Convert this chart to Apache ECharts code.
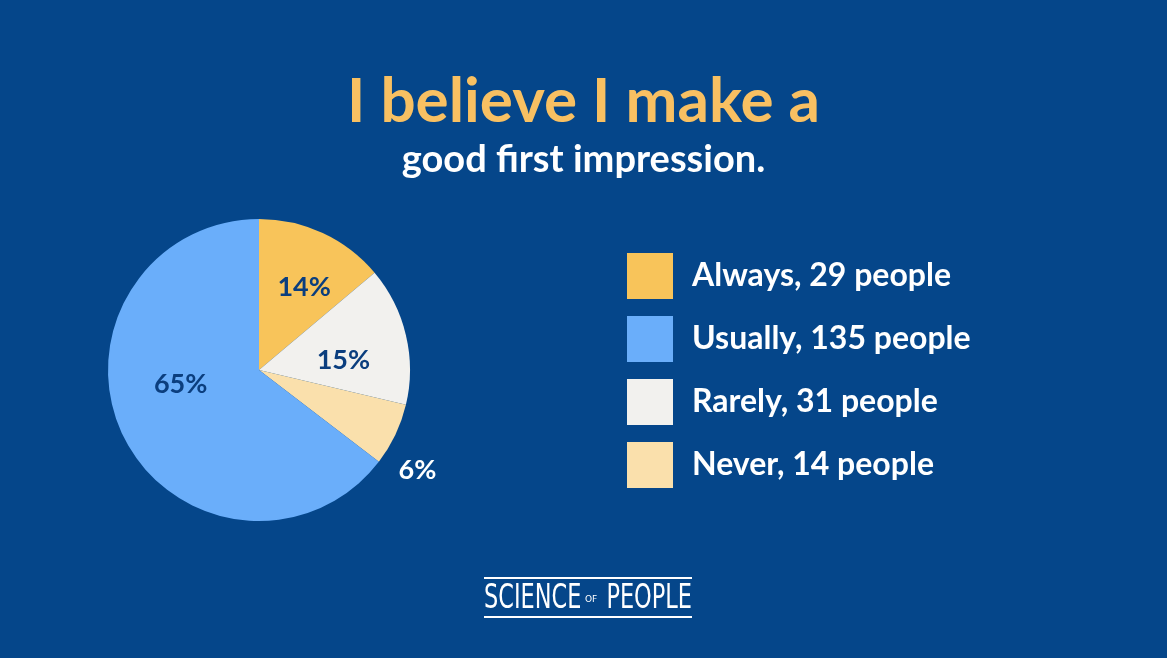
<!DOCTYPE html>
<html><head><meta charset="utf-8">
<script src="https://cdn.jsdelivr.net/npm/echarts@6/dist/echarts.min.js"></script>
<style>html,body{margin:0;padding:0;background:#05468A;}#c{width:1167px;height:658px;}</style>
</head><body><div id="c"></div>
<script>
const categories = ['Always', 'Rarely', 'Never', 'Usually'];
const counts = [29, 31, 14, 135];
const percentLabels = ['14%', '15%', '6%', '65%'];
const legendOrder = ['Always', 'Usually', 'Rarely', 'Never'];
const colors = ['#F8C45A', '#F2F1EE', '#FAE0AC', '#6AAEFA'];
const titleLine1 = 'I believe I make a';
const titleLine2 = 'good first impression.';

const FONT = 'Lato, "Noto Sans", sans-serif';
const chart = echarts.init(document.getElementById('c'));
const countByName = {};
categories.forEach((c, i) => countByName[c] = counts[i]);
const labelShift = { Always: [12, -12], Rarely: [8, 8], Never: [-4, 32], Usually: [-8, -20] };

chart.setOption({
  backgroundColor: '#05468A',
  animation: false,
  title: [
    { text: titleLine1, left: 'center', top: 66, textStyle: { color: '#F8C062', fontSize: 62, fontWeight: 'bold', fontFamily: FONT } },
    { text: titleLine2, left: 'center', top: 136, textStyle: { color: '#FFFFFF', fontSize: 38, fontWeight: 'bold', fontFamily: FONT } }
  ],
  legend: {
    orient: 'vertical', left: 627, top: 253, padding: 0, itemWidth: 46, itemHeight: 46, itemGap: 17,
    icon: 'rect', data: legendOrder,
    formatter: n => n + ', ' + countByName[n] + ' people',
    textStyle: { color: '#FFFFFF', fontSize: 32, fontWeight: 'bold', fontFamily: FONT, padding: [0, 0, 0, 14] }
  },
  series: [{
    type: 'pie', center: [259, 370], radius: [0, 151], startAngle: 90, clockwise: true,
    silent: true,
    label: { position: 'inside', color: '#0B3E7E', fontSize: 27, fontWeight: 'bold', fontFamily: FONT,
      formatter: p => percentLabels[p.dataIndex] },
    labelLine: { show: false },
    labelLayout: p => { const s = labelShift[categories[p.dataIndex]]; return { dx: s[0], dy: s[1] }; },
    data: categories.map((c, i) => {
      const d = { name: c, value: counts[i], itemStyle: { color: colors[i] } };
      if (c === 'Never') {
        d.label = { position: 'outside', color: '#FFFFFF', distanceToLabelLine: 0 };
        d.labelLine = { show: false, length: 8, length2: 0 };
      }
      return d;
    })
  }],
  graphic: [
    { type: 'rect', shape: { x: 484, y: 577, width: 208, height: 2 }, style: { fill: '#FFFFFF' } },
    { type: 'rect', shape: { x: 484, y: 616, width: 208, height: 2 }, style: { fill: '#FFFFFF' } },
    { type: 'text', x: 484, y: 599, scaleX: 0.66, originX: 0, style: { text: 'SCIENCE', fill: '#FFFFFF', font: '34px "DejaVu Sans", sans-serif', textVerticalAlign: 'middle' } },
    { type: 'text', x: 585, y: 600, style: { text: 'OF', fill: '#FFFFFF', font: '9px "DejaVu Sans", sans-serif', textVerticalAlign: 'middle' } },
    { type: 'text', x: 692, y: 599, scaleX: 0.66, originX: 0, style: { text: 'PEOPLE', fill: '#FFFFFF', font: '34px "DejaVu Sans", sans-serif', textAlign: 'right', textVerticalAlign: 'middle' } }
  ]
});
</script></body></html>
